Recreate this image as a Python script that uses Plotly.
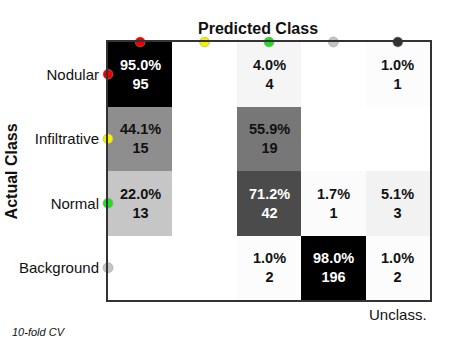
import plotly.graph_objects as go

actual = ["Nodular", "Infiltrative", "Normal", "Background"]
predicted = ["Nodular", "Infiltrative", "Normal", "Background", "Unclass."]
counts = [
    [95, 0, 4, 0, 1],
    [15, 0, 19, 0, 0],
    [13, 0, 42, 1, 3],
    [0, 0, 2, 196, 2],
]
percents = [
    [95.0, 0, 4.0, 0, 1.0],
    [44.1, 0, 55.9, 0, 0],
    [22.0, 0, 71.2, 1.7, 5.1],
    [0, 0, 1.0, 98.0, 1.0],
]
pred_colors = ["#f00000", "#f2f200", "#22dd22", "#c4c4c4", "#333333"]
act_colors = ["#f00000", "#f2f200", "#22dd22", "#c4c4c4"]

FONT = "Liberation Sans, Arial, sans-serif"

grey_scale = [
    [0.0, "#ffffff"], [0.22, "#c6c6c6"], [0.44, "#8e8e8e"],
    [0.56, "#777777"], [0.71, "#4c4c4c"], [0.92, "#000000"], [1.0, "#000000"],
]

fig = go.Figure()
fig.add_trace(go.Heatmap(
    z=percents, x=list(range(5)), y=list(range(4)),
    colorscale=grey_scale, zmin=0, zmax=100,
    showscale=False, hoverinfo="skip", xgap=0, ygap=0,
))

annotations = []
for i in range(4):
    for j in range(5):
        if counts[i][j] > 0:
            col = "white" if percents[i][j] > 60 else "#111111"
            annotations.append(dict(
                x=j, y=i, xref="x", yref="y",
                text=f"<b>{percents[i][j]:.1f}%<br>{counts[i][j]}</b>",
                showarrow=False, font=dict(family=FONT, size=14.5, color=col),
            ))

# top dots (predicted)
fig.add_trace(go.Scatter(
    x=list(range(5)), y=[-0.5] * 5, mode="markers", cliponaxis=False,
    marker=dict(size=10, color=pred_colors, line=dict(color="#999999", width=0.5)),
    hoverinfo="skip", showlegend=False,
))
# left dots (actual)
fig.add_trace(go.Scatter(
    x=[-0.5] * 4, y=list(range(4)), mode="markers", cliponaxis=False,
    marker=dict(size=10, color=act_colors, line=dict(color="#999999", width=0.5)),
    hoverinfo="skip", showlegend=False,
))

annotations += [
    dict(text="<b>Predicted Class</b>", x=0.467, y=1.0, xref="paper", yref="paper",
         yanchor="bottom", yshift=3, showarrow=False,
         font=dict(family=FONT, size=16, color="#111")),
    dict(text="<b>Actual Class</b>", x=-0.30, y=0.5, xref="paper", yref="paper",
         xanchor="center", yanchor="middle",
         textangle=-90, showarrow=False, font=dict(family=FONT, size=16, color="#111")),
    dict(text="<i>10-fold CV</i>", x=-0.305, y=-0.155, xref="paper", yref="paper",
         xanchor="left", showarrow=False, font=dict(family=FONT, size=11, color="#111")),
]

fig.update_layout(
    width=474, height=355,
    margin=dict(l=108, r=44, t=42, b=55),
    plot_bgcolor="white", paper_bgcolor="white",
    annotations=annotations,
    showlegend=False,
    xaxis=dict(range=[-0.5, 4.5], tickvals=[4], ticktext=["Unclass."],
               showgrid=False, zeroline=False, showline=True, mirror=True,
               linecolor="#333333", linewidth=2, ticks="", automargin=False,
               tickfont=dict(family=FONT, size=15, color="#111")),
    yaxis=dict(range=[3.5, -0.5], tickvals=list(range(4)), ticktext=actual,
               showgrid=False, zeroline=False, showline=True, mirror=True,
               linecolor="#333333", linewidth=2, ticks="", ticklabelstandoff=4,
               automargin=False,
               tickfont=dict(family=FONT, size=15, color="#111")),
)
fig.write_html("out.html", config={"displayModeBar": False},
               post_script="document.body.style.margin='0';")
